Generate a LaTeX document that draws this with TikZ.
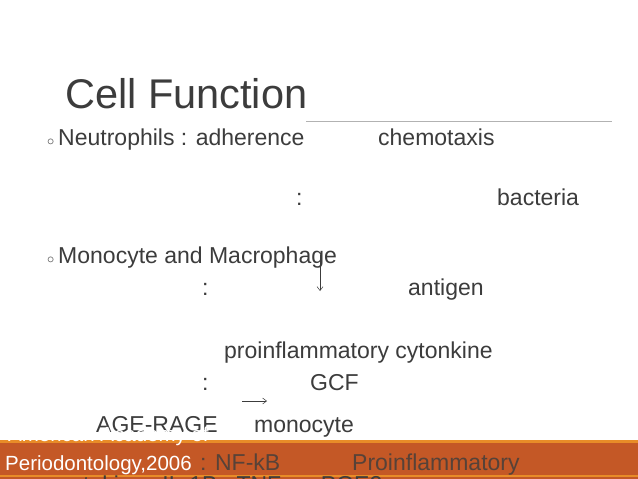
\documentclass[tikz,border=0pt]{standalone}
\usepackage{fontspec}
\setmainfont{Liberation Sans}
\usetikzlibrary{arrows.meta}
\definecolor{txt}{RGB}{60,60,60}
\definecolor{barfill}{RGB}{196,88,38}
\definecolor{barline}{RGB}{232,140,40}
\newcommand{\slidebullet}{{\fontsize{14}{14}\selectfont$\circ$}\,}
\begin{document}
\begin{tikzpicture}[x=1pt,y=-1pt,>={Straight Barb[length=4pt,width=6pt]},
  body/.style={anchor=base west,inner sep=0pt,text=txt,font=\fontsize{23}{25}\selectfont},
  foot/.style={anchor=base west,inner sep=0pt,text=white,font=\fontsize{20.5}{22}\selectfont}]
\clip (0,0) rectangle (638,479);
\fill[white] (0,0) rectangle (638,479);
% title
\node[anchor=base west,inner sep=0pt,text=txt,font=\fontsize{41.5}{44}\selectfont] (title) at (65,108) {Cell Function};
\draw[gray!60,line width=0.6pt] (306,121) -- (612,121);
% text lines
\node[body] (b1) at (47,145) {\slidebullet Neutrophils : adherence};
\node[body] (chemo) at (378,145) {chemotaxis};
\node[body] (c1) at (296,205) {:};
\node[body] (bact) at (497,205) {bacteria};
\node[body] (b2) at (47,263) {\slidebullet Monocyte and Macrophage};
\node[body] (c2) at (202,295) {:};
\node[body] (antigen) at (408,295) {antigen};
\node[body] (proinf) at (224,358) {proinflammatory cytonkine};
\node[body] (c3) at (202,390) {:};
\node[body] (gcf) at (310,390) {GCF};
\node[body] (age) at (96,432) {AGE-RAGE};
\node[body] (mono) at (254,432) {monocyte};
\coordinate (d1) at (320,255);
\coordinate (d2) at (320,291);
\draw[->,txt,line width=0.5pt] (d1) -- (d2);
\coordinate (r1) at (242,401);
\coordinate (r2) at (267,401);
\draw[->,txt,line width=0.5pt] (r1) -- (r2);
% footer bar
\fill[barfill] (0,441) rectangle (638,479);
\fill[barline] (0,440) rectangle (638,443);
\fill[barline] (0,475) rectangle (638,477);
\node[foot] (aao) at (8,441) {American Academy of};
\node[foot] (perio) at (5,470) {Periodontology,2006};
\node[body,text=txt!80!barfill] (nfkb) at (200,470) {: NF-kB};
\node[body,text=txt!80!barfill] (proinf2) at (352,470) {Proinflammatory};
\node[body] (cyto) at (60,492) {cytokines IL-1B , TNF-a , PGE2};
\end{tikzpicture}
\end{document}
